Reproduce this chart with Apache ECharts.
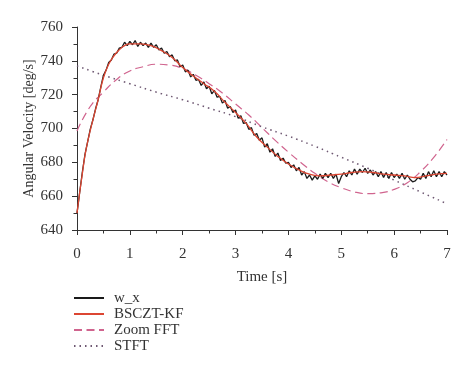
<!DOCTYPE html>
<html>
<head>
<meta charset="utf-8">
<script src="https://cdn.jsdelivr.net/npm/echarts@6/dist/echarts.min.js"></script>
<style>html,body{margin:0;padding:0;background:#fff}#c{width:474px;height:372px}</style>
</head>
<body>
<div id="c"></div>
<script>
// Time axis tick labels
const xTicks = [0, 1, 2, 3, 4, 5, 6, 7];
const yTicks = [640, 660, 680, 700, 720, 740, 760];

// w_x measured signal (time step 0.05 s)
const wxTime = [];
for (let i = 0; i <= 140; i++) wxTime.push(+(i * 0.05).toFixed(2));
const wxValues = [
  650, 662, 674, 684.5, 692, 699.5, 705, 711.5, 717, 724.5,
  731.5, 734.5, 739, 740.5, 744, 744.5, 747.5, 748, 751, 749,
  751.5, 749.5, 752, 748.5, 751, 749, 750.5, 748, 750.5, 748,
  749.5, 746.5, 747.5, 744.5, 745.5, 742.5, 743.5, 740, 740.5, 736.5,
  737.5, 733.5, 734.5, 730.5, 732, 728.5, 729, 725.5, 727.5, 723.5,
  725, 720.5, 722.5, 718.5, 719, 715, 716.5, 712, 713, 709.5,
  711, 706, 707.5, 703, 703.5, 699.5, 700.5, 696, 697, 693,
  694.5, 689, 691, 686, 688, 683.5, 685.5, 681, 682.5, 679.5,
  680, 677, 678.5, 675, 677, 672.5, 674.5, 670.5, 672.5, 669.5,
  672, 670, 673, 670.5, 673.5, 671, 673.5, 670.5, 673, 667.5,
  671.5, 674, 671.5, 675, 672.5, 676, 673, 676, 674, 676.5,
  673.5, 675.5, 672.5, 674.5, 671.5, 674.5, 671, 674, 670.5, 674,
  671, 673, 670.5, 673.5, 670, 672.5, 670, 668.5, 669, 671,
  670, 673.5, 670.5, 674.5, 671.5, 675, 671.5, 674.5, 671.5, 674.5,
  672.5
];

// BSCZT-KF estimate
const kfTime = [0, 0.05, 0.1, 0.15, 0.2, 0.3, 0.4, 0.5, 0.6, 0.7, 0.8, 0.9, 1.0, 1.2, 1.4, 1.6, 1.8, 2.0, 2.2, 2.4, 2.6, 2.8, 3.0, 3.2, 3.4, 3.6, 3.8, 4.0, 4.2, 4.4, 4.6, 4.8, 5.0, 5.2, 5.4, 5.6, 5.8, 6.0, 6.2, 6.4, 6.6, 6.8, 7.0];
const kfValues = [650, 662, 673, 684, 692, 705, 717, 730, 738, 743, 746.5, 749, 750, 750, 749, 746, 742, 736, 731, 726.5, 722, 715.5, 709.5, 703, 695, 689, 683.5, 679, 675.5, 673, 672, 672.5, 673, 674, 674.5, 674, 673, 672.5, 672, 671, 672, 673, 673.5];

// Zoom FFT estimate
const fftTime = [0, 0.25, 0.5, 0.75, 1.0, 1.25, 1.5, 1.75, 2.0, 2.25, 2.5, 2.75, 3.0, 3.25, 3.5, 3.75, 4.0, 4.25, 4.5, 4.75, 5.0, 5.25, 5.5, 5.75, 6.0, 6.25, 6.5, 6.75, 7.0];
const fftValues = [698.5, 713, 721.5, 729, 734, 736.5, 738, 737.5, 735.5, 731.5, 726.5, 721, 714.5, 708, 700.5, 693, 686, 679.5, 673.5, 668.5, 665, 662.5, 661.5, 662, 664, 668, 674.5, 683, 693.5];

// STFT estimate
const stftTime = [0, 0.5, 1, 1.5, 2, 2.5, 3, 3.5, 4, 4.5, 5, 5.5, 6, 6.5, 7];
const stftValues = [737, 731.5, 726.5, 721.5, 717, 712, 707, 701, 695.5, 689.5, 683, 676.5, 669.5, 662.5, 655.5];

const zip = (a, b) => a.map((t, i) => [t, b[i]]);
const FONT = '"Liberation Serif", "DejaVu Serif", serif';
const TXT = '#333';

const chart = echarts.init(document.getElementById('c'), null, {renderer: 'canvas'});
chart.setOption({
  animation: false,
  backgroundColor: '#fff',
  textStyle: {fontFamily: FONT, color: TXT},
  grid: {left: 77, right: 27, top: 27, bottom: 142, containLabel: false},
  xAxis: {
    type: 'value', min: xTicks[0], max: xTicks[xTicks.length - 1], interval: 1,
    name: 'Time [s]', nameLocation: 'middle', nameGap: 40,
    nameTextStyle: {fontFamily: FONT, fontSize: 15, color: TXT},
    axisLine: {onZero: false, lineStyle: {color: '#333', width: 1}},
    axisTick: {show: true, inside: false, length: 5, lineStyle: {color: '#333'}},
    minorTick: {show: true, splitNumber: 2, length: 3.5, lineStyle: {color: '#333'}},
    splitLine: {show: false},
    axisLabel: {fontFamily: FONT, fontSize: 15, color: TXT, margin: 17}
  },
  yAxis: {
    type: 'value', min: yTicks[0], max: yTicks[yTicks.length - 1], interval: 20,
    name: 'Angular Velocity [deg/s]', nameLocation: 'middle', nameGap: 41,
    nameMoveOverlap: false,
    nameTextStyle: {fontFamily: FONT, fontSize: 14, color: TXT},
    axisLine: {show: true, onZero: false, lineStyle: {color: '#333', width: 1}},
    axisTick: {show: true, inside: false, length: 5, lineStyle: {color: '#333'}},
    minorTick: {show: true, splitNumber: 2, length: 3.5, lineStyle: {color: '#333'}},
    splitLine: {show: false},
    axisLabel: {fontFamily: FONT, fontSize: 15, color: TXT, margin: 14}
  },
  legend: {
    orient: 'vertical', left: 68, top: 285, itemGap: 0, itemWidth: 30, itemHeight: 12,
    itemStyle: {opacity: 0},
    textStyle: {fontFamily: FONT, fontSize: 15, color: TXT, lineHeight: 16, padding: [0, 0, 0, 5]},
    data: ['w_x', 'BSCZT-KF', 'Zoom FFT', 'STFT']
  },
  series: [
    {name: 'STFT', type: 'line', data: zip(stftTime, stftValues), symbol: 'none', smooth: true, z: 2,
     lineStyle: {color: '#6e5872', width: 1.5, type: [1.5, 4]}, itemStyle: {color: '#6e5872'}},
    {name: 'Zoom FFT', type: 'line', data: zip(fftTime, fftValues), symbol: 'none', smooth: true, z: 3,
     lineStyle: {color: '#d0648e', width: 1.2, type: [8, 4.5]}, itemStyle: {color: '#d0648e'}},
    {name: 'w_x', type: 'line', data: zip(wxTime, wxValues), symbol: 'none', z: 4,
     lineStyle: {color: '#1a1a1a', width: 1.3}, itemStyle: {color: '#1a1a1a'}},
    {name: 'BSCZT-KF', type: 'line', data: zip(kfTime, kfValues), symbol: 'none', smooth: true, z: 5,
     lineStyle: {color: '#dc4632', width: 1.3}, itemStyle: {color: '#dc4632'}}
  ]
});
</script>
</body>
</html>
